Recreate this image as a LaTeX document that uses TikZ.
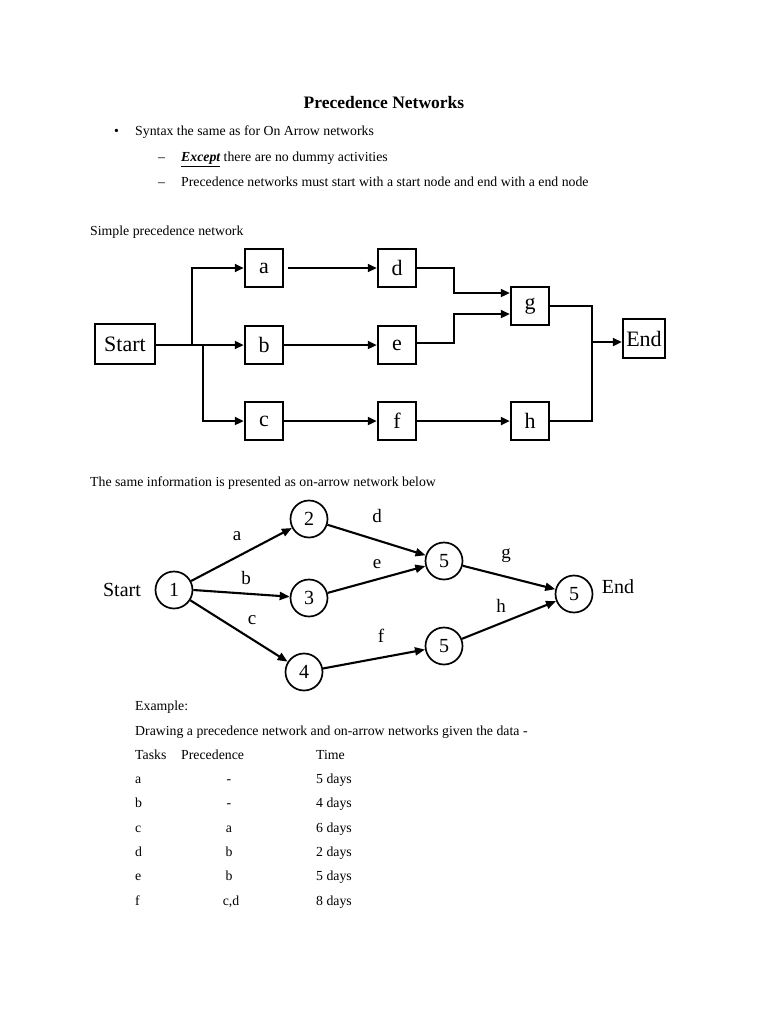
\documentclass[tikz,border=0pt]{standalone}
\usepackage{fontspec}
\setmainfont{Liberation Serif}
\usetikzlibrary{arrows.meta}
\begin{document}
\begin{tikzpicture}[x=1pt,y=-1pt,
  body/.style={font=\fontsize{13.8}{16}\selectfont, inner sep=0, anchor=base west},
  bodyc/.style={font=\fontsize{13.8}{16}\selectfont, inner sep=0, anchor=base},
  pbox/.style={draw, line width=2.5pt, minimum width=38pt, minimum height=38pt, inner sep=0, font=\fontsize{22}{24}\selectfont},
  pline/.style={line width=2.5pt},
  parr/.style={pline, -{Triangle[length=9pt,width=8pt]}},
  circ/.style={draw, circle, line width=1.7pt, minimum size=37pt, inner sep=0, font=\fontsize{20}{22}\selectfont},
  carr/.style={line width=2.1pt, -{Triangle[length=10pt,width=8pt]}},
  lab/.style={font=\fontsize{19}{21}\selectfont, inner sep=0}]
\fill[white] (0,0) rectangle (768,1024);
\useasboundingbox (0,0) rectangle (768,1024);

% header text
\node[bodyc, font=\fontsize{17.5}{20}\selectfont\bfseries] (title) at (384,109) {Precedence Networks};
\node[body] (bul) at (114,136) {•};
\node[body] (l1) at (135,136) {Syntax the same as for On Arrow networks};
\node[body] (d1) at (158,162) {–};
\node[body] (l2) at (181,162) {\textbf{\textit{\underline{Except}}} there are no dummy activities};
\node[body] (d2) at (158,187) {–};
\node[body] (l3) at (181,187) {Precedence networks must start with a start node and end with a end node};
\node[body] (simple) at (90,236) {Simple precedence network};

% precedence network
\node[pbox, minimum width=60pt, minimum height=40pt] (Start) at (125,344) {Start};
\node[pbox] (a) at (264,268) {a};
\node[pbox] (b) at (264,345) {b};
\node[pbox] (c) at (264,421) {c};
\node[pbox] (d) at (397,268) {d};
\node[pbox] (e) at (397,345) {e};
\node[pbox] (f) at (397,421) {f};
\node[pbox] (g) at (530,306) {g};
\node[pbox] (h) at (530,421) {h};
\node[pbox, minimum width=42pt, minimum height=39pt] (End) at (644,338.5) {End};

\coordinate (s1) at (192,345);
\coordinate (s2) at (203,345);
\draw[parr] (Start.east |- s1) -- (b.west);
\draw[parr] (s1) |- (a.west);
\draw[parr] (s2) |- (c.west);
\draw[parr, shorten <=4pt] (a.east) -- (d.west);
\draw[parr] (b.east) -- (e.west);
\draw[parr] (c.east) -- (f.west);
\draw[parr] (f.east) -- (h.west);
\coordinate (jd) at (454,268);
\draw[parr] (d.east) -- (jd) |- ([yshift=13pt]g.west);
\coordinate (je) at (454,343);
\draw[parr] (e.east |- je) -- (je) |- ([yshift=-8pt]g.west);
\coordinate (jg) at (592,342);
\draw[pline] (g.east) -| (jg) |- (h.east);
\draw[parr] (jg) -- (End.west |- jg);

\node[body] (same) at (90,486) {The same information is presented as on-arrow network below};

% on-arrow network
\node[circ] (n1) at (174,590) {1};
\node[circ] (n2) at (309,519) {2};
\node[circ] (n3) at (309,598) {3};
\node[circ] (n4) at (304,672) {4};
\node[circ] (n5a) at (444,561) {5};
\node[circ] (n5b) at (444,646) {5};
\node[circ] (n5c) at (574,594) {5};
\node[lab, font=\fontsize{20}{22}\selectfont] (st) at (122,590) {Start};
\node[lab, font=\fontsize{20}{22}\selectfont] (en) at (618,587) {End};

\draw[carr] (n1) -- (n2);
\draw[carr] (n1.east) -- (n3);
\draw[carr] (n1) -- (n4);
\draw[carr] (n2) -- (n5a);
\draw[carr] (n3) -- (n5a);
\draw[carr] (n4) -- (n5b);
\draw[carr] (n5a) -- (n5c);
\draw[carr] (n5b) -- (n5c);

\node[lab] (la) at (237,536) {a};
\node[lab] (lb) at (246,578) {b};
\node[lab] (lc) at (252,620) {c};
\node[lab] (ld) at (377,516) {d};
\node[lab] (le) at (377,564) {e};
\node[lab] (lf) at (381,636) {f};
\node[lab] (lg) at (506,556) {g};
\node[lab] (lh) at (501,606) {h};

% example table
\node[body] (ex) at (135,710) {Example:};
\node[body] (dr) at (135,735) {Drawing a precedence network and on-arrow networks given the data -};
\node[body] (th1) at (135,759) {Tasks};
\node[body] (th2) at (181,759) {Precedence};
\node[body] (th3) at (316,759) {Time};

\node[body] (ta) at (135,783) {a};
\node[bodyc] (pa) at (229,783) {-};
\node[body] (ia) at (316,783) {5 days};
\node[body] (tb) at (135,807) {b};
\node[bodyc] (pb) at (229,807) {-};
\node[body] (ib) at (316,807) {4 days};
\node[body] (tc) at (135,832) {c};
\node[bodyc] (pc) at (229,832) {a};
\node[body] (ic) at (316,832) {6 days};
\node[body] (td) at (135,856) {d};
\node[bodyc] (pd) at (229,856) {b};
\node[body] (id) at (316,856) {2 days};
\node[body] (te) at (135,880) {e};
\node[bodyc] (pe) at (229,880) {b};
\node[body] (ie) at (316,880) {5 days};
\node[body] (tf) at (135,905) {f};
\node[bodyc] (pf) at (231,905) {c,d};
\node[body] (if) at (316,905) {8 days};
\end{tikzpicture}
\end{document}
